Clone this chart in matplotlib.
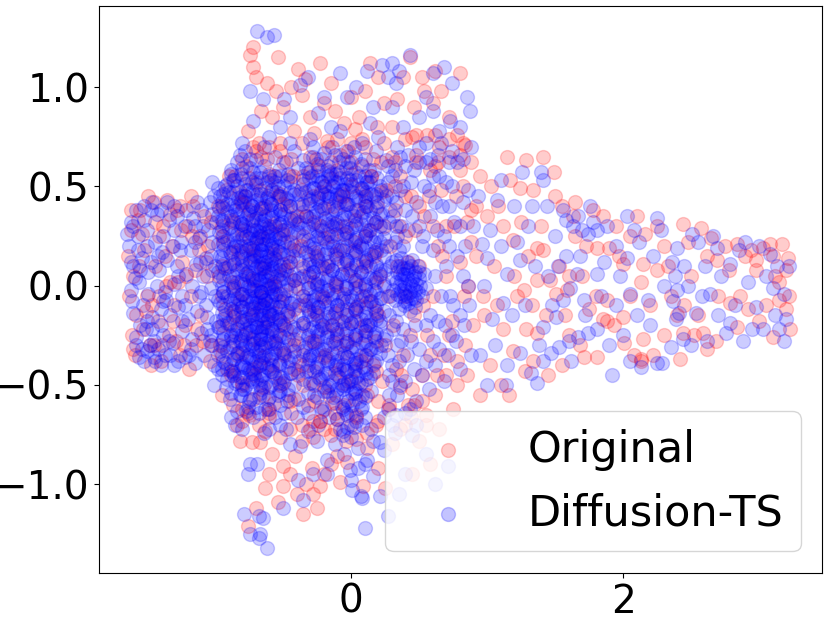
import numpy as np
import matplotlib
matplotlib.use("Agg")
import matplotlib.pyplot as plt

# ---------------- Original (red) points ----------------
orig_left = [(-1.62,.28),(-1.60,.05),(-1.58,-.15),(-1.61,-.25),(-1.55,.38),(-1.52,.18),(-1.50,-.05),(-1.48,-.30),
 (-1.45,.42),(-1.44,.10),(-1.42,-.18),(-1.40,-.38),(-1.38,.30),(-1.36,.00),(-1.34,-.25),(-1.32,.20),(-1.30,-.10),
 (-1.28,.38),(-1.26,-.35),(-1.24,.12),(-1.22,-.20),(-1.20,.30),(-1.18,-.05),(-1.16,.40),(-1.14,-.30),(-1.12,.18),
 (-1.10,-.15),(-1.08,.35),(-1.06,.05),(-1.04,-.38),(-1.57,.33),(-1.63,-.05),(-1.47,-.40),(-1.35,.43),(-1.27,.02),
 (-1.19,-.42),(-1.11,.25),(-1.53,-.22),(-1.41,.25),(-1.29,-.28),(-1.33,.36),(-1.21,.05),(-1.09,-.28),(-1.56,.10),
 (-1.46,-.10),(-1.39,-.30),(-1.25,.28),(-1.15,.08),(-1.05,.20),(-1.60,-.32),
 (-1.64,.15),(-1.59,-.35),(-1.54,.26),(-1.51,-.13),(-1.44,.32),(-1.41,-.05),(-1.37,.15),(-1.31,-.18),(-1.26,.40),
 (-1.23,-.30),(-1.17,.25),(-1.13,-.22),(-1.07,.12),(-1.02,-.30),(-1.49,.45),(-1.62,.38),(-1.18,.45),(-1.33,.02),
 (-1.03,.32),(-1.45,-.30)]
orig_core1 = [(-.98,.40),(-.97,.05),(-.96,-.30),(-.95,-.55),(-.94,.22),(-.93,-.12),(-.92,.48),(-.91,-.42),(-.90,.10),
 (-.89,-.20),(-.88,.33),(-.87,-.60),(-.86,.00),(-.85,.55),(-.84,-.35),(-.83,.18),(-.82,-.08),(-.81,.42),(-.80,-.50),
 (-.79,.28),(-.78,-.25),(-.77,.60),(-.76,.05),(-.75,-.65),(-.74,.38),(-.73,-.15),(-.72,.15),(-.71,-.45),(-.70,.52),
 (-.69,-.02),(-.68,.25),(-.67,-.30),(-.66,.65),(-.65,-.55),(-.64,.10),(-.63,.40),(-.62,-.18),(-.61,-.62),(-.60,.30),
 (-.59,.00),(-.58,-.40),(-.57,.55),(-.56,.18),(-.55,-.25),(-.54,.45),(-.53,-.08),(-.52,-.50),(-.51,.28),(-.50,.62),
 (-.49,-.35),(-.48,.08),(-.47,.40),(-.46,-.15),(-.45,-.58),(-.44,.22),(-.43,.55),(-.42,-.30),(-.41,.00),(-.40,.35),
 (-.39,-.45),(-.95,.30),(-.85,-.15),(-.75,.20),(-.65,-.10),(-.55,.05),(-.45,.12),(-.88,-.45),(-.78,.45),(-.68,-.40),
 (-.58,.48),(-.48,-.22),(-.70,.68),(-.60,-.66),(-.80,-.62),(-.52,.68)]
orig_core2 = [(-.37,.20),(-.36,-.40),(-.35,.55),(-.34,-.10),(-.33,.35),(-.32,-.60),(-.31,.05),(-.30,.65),(-.29,-.28),
 (-.28,.45),(-.27,-.50),(-.26,.15),(-.25,-.15),(-.24,.60),(-.23,-.68),(-.22,.30),(-.21,-.05),(-.20,.50),(-.19,-.35),
 (-.18,.10),(-.17,.70),(-.16,-.55),(-.15,.25),(-.14,-.20),(-.13,.40),(-.12,-.72),(-.11,.00),(-.10,.58),(-.09,-.42),
 (-.08,.18),(-.07,-.12),(-.06,.45),(-.05,-.60),(-.04,.30),(-.03,-.28),(-.02,.68),(-.01,.08),(.00,-.48),(.01,.50),
 (.02,-.18),(.03,.22),(.04,-.65),(.05,.38),(.06,.00),(.07,-.38),(.08,.60),(.09,.12),(.10,-.25),(.11,.45),(.12,-.55),
 (.13,.28),(.14,-.08),(.15,.55),(.16,-.40),(.17,.15),(.18,-.70),(.19,.40),(.20,-.15),(.21,.05),(.22,.62),(.23,-.48),
 (.24,.30),(.25,-.30),(.26,.48),(.27,-.05),(.28,-.60),(.29,.20),(.30,.65),(.31,-.20),(.32,.38),(.33,-.42),(.34,.10),
 (-.30,-.72),(.00,.72),(-.20,-.62),(.10,.70),(.20,-.58),(-.10,-.25),(.05,-.10),(-.15,.62)]
orig_core_fill = [(-.90,.55),(-.75,.54),(-.60,.56),(-.45,.55),(-.30,.57),(-.15,.54),(.00,.56),(.15,.55),
 (-.82,.47),(-.67,.48),(-.52,.46),(-.37,.48),(-.22,.47),(-.07,.46),(.08,.48),(.22,.47),
 (-.95,.40),(-.80,.41),(-.65,.39),(-.50,.41),(-.35,.40),(-.20,.39),(-.05,.41),(.10,.40),
 (-.87,.32),(-.72,.33),(-.57,.31),(-.42,.33),(-.27,.32),(-.12,.31),(.03,.33),(.18,.32),
 (-.95,.25),(-.80,.26),(-.65,.24),(-.50,.26),(-.35,.25),(-.20,.24),(-.05,.26),(.10,.25),
 (-.87,.17),(-.72,.18),(-.57,.16),(-.42,.18),(-.27,.17),(-.12,.16),(.03,.18),(.18,.17),
 (-.95,.10),(-.80,.11),(-.65,.09),(-.50,.11),(-.35,.10),(-.20,.09),(-.05,.11),(.10,.10),
 (-.87,.02),(-.72,.03),(-.57,.01),(-.42,.03),(-.27,.02),(-.12,.01),(.03,.03),(.18,.02),
 (-.95,-.05),(-.80,-.04),(-.65,-.06),(-.50,-.04),(-.35,-.05),(-.20,-.06),(-.05,-.04),(.10,-.05),
 (-.87,-.13),(-.72,-.12),(-.57,-.14),(-.42,-.12),(-.27,-.13),(-.12,-.14),(.03,-.12),(.18,-.13),
 (-.95,-.20),(-.80,-.19),(-.65,-.21),(-.50,-.19),(-.35,-.20),(-.20,-.21),(-.05,-.19),(.10,-.20),
 (-.87,-.28),(-.72,-.27),(-.57,-.29),(-.42,-.27),(-.27,-.28),(-.12,-.29),(.03,-.27),(.18,-.28),
 (-.95,-.35),(-.80,-.34),(-.65,-.36),(-.50,-.34),(-.35,-.35),(-.20,-.36),(-.05,-.34),(.10,-.35),
 (-.87,-.43),(-.72,-.42),(-.57,-.44),(-.42,-.42),(-.27,-.43),(-.12,-.44),(.03,-.42),(.18,-.43),
 (-.80,-.49),(-.65,-.51),(-.50,-.49),(-.35,-.50),(-.20,-.51),(-.05,-.49),(.10,-.50),
 (-.72,-.57),(-.57,-.59),(-.42,-.57),(-.27,-.58),(-.12,-.59),(.03,-.57)]
orig_mid = [(.36,.55),(.38,-.35),(.40,.25),(.42,-.60),(.44,.45),(.46,-.15),(.48,.62),(.50,.10),(.52,-.45),(.54,.35),
 (.56,-.25),(.58,.58),(.60,-.05),(.62,-.55),(.64,.20),(.66,.48),(.68,-.35),(.70,.05),(.72,.65),(.74,-.18),(.76,.30),
 (.78,-.50),(.80,.12),(.82,.50),(.84,-.30),(.86,.00),(.88,.38),(.90,-.20),(.45,.75),(.55,-.70),(.65,.70),(.75,-.62),
 (.40,-.05),(.50,.40),(.60,.30),(.70,-.45),(.80,.58),(.85,-.45),(.42,.12),(.58,-.35),
 (.32,.50),(.35,.30),(.37,-.45),(.43,-.25),(.47,.28),(.53,-.10),(.57,.45),(.63,-.45),(.67,.15),(.72,-.25),(.77,.45),
 (.83,-.05),(.88,.22),(.62,.60),(.52,-.58),(.40,.45),(.45,-.52),(.70,.30),(.78,-.38),(.85,.32)]
orig_top = [(-.72,1.20),(-.72,1.10),(-.74,1.16),(-.70,1.05),(-.54,1.15),(-.39,1.09),(-.23,1.12),(.14,1.12),(.43,1.15),
 (.03,.79),(.54,.98),(.84,.71),(.80,1.07),(-.62,1.02),(-.66,.88),(-.58,.85),(-.50,.90),(-.44,1.00),(-.36,.96),(-.42,.78),
 (-.30,.85),(-.20,.92),(-.12,.88),(-.05,.82),(.00,.95),(.06,.85),(.10,.98),(.19,.80),(.24,.92),(.30,.80),(.38,1.05),
 (.46,.90),(.52,1.05),(.60,.92),(.66,.98),(.72,.85),(.78,.76),(.62,.76),(-.76,.78),(-.68,.72),(-.34,1.04),(-.27,.77),
 (.34,.94),(.48,.76),(-.60,.70),(-.10,.74),
 (-.80,.64),(-.72,.70),(-.62,.64),(-.52,.72),(-.44,.64),(-.36,.72),(-.26,.64),(-.18,.73),(-.08,.66),(.00,.62),(.08,.74),
 (.16,.64),(.24,.72),(.32,.62),(.40,.74),(.48,.66),(.56,.76),(.64,.62),(.72,.74),(.80,.66),(.88,.62),(-.55,.98),
 (.20,1.05),(.62,1.08),(-.15,1.02)]
orig_bottom = [(-.82,-.78),(-.73,-.79),(-.67,-.79),(-.80,-.68),(-.63,-.73),(-.76,-1.21),(-.63,-1.02),(-.54,-1.09),
 (-.50,-1.01),(-.35,-1.15),(-.28,-1.05),(-.29,-.92),(-.23,-1.01),(-.40,-1.05),(-.50,-.91),(-.41,-.86),(-.10,-.86),
 (-.08,-.99),(.09,-1.01),(-.03,-.89),(-.28,-.68),(-.23,-.68),(-.10,-.67),(.04,-.77),(.12,-.82),(.46,-.60),(.36,-.51),
 (-.70,-1.12),(-.33,-1.00),(-.25,-1.12),(-.45,-.72),(-.15,-.75),(.20,-.92),(.30,-.80),(.40,-.70),(.50,-.78),(.58,-.90),
 (.65,-.72),(.45,-.95),(.55,-.65),(.25,-1.02),(-.58,-.85),(-.20,-.95),(.00,-.70),(-.36,-.78),
 (-.84,-.70),(-.76,-.64),(-.68,-.70),(-.60,-.64),(-.52,-.76),(-.44,-.64),(-.36,-.70),(-.28,-.76),(-.20,-.72),
 (-.12,-.64),(-.04,-.78),(.04,-.66),(.12,-.74),(.20,-.68),(.28,-.62),(.36,-.72),(.44,-.66),(-.45,-.95),(-.60,-.95),
 (-.15,-.90)]
orig_tail = [(1.15,.65),(1.29,.63),(1.41,.65),(1.49,.57),(2.44,.31),(2.57,.29),(2.65,.24),(2.84,.21),(3.17,.21),
 (3.03,.19),(3.21,.14),(3.20,.08),(3.20,-.12),(3.23,-.22),(3.10,-.26),(2.98,.08),(2.92,-.12),(2.84,-.21),(2.62,-.32),
 (2.59,-.24),(2.42,-.37),(2.22,-.35),(2.13,-.37),(2.01,-.29),(2.15,-.27),(1.88,-.07),(2.13,.02),(2.15,.11),(2.00,.11),
 (1.81,.19),(1.90,.19),(2.10,.35),(2.16,.26),(2.00,-.16),(1.85,-.17),(1.59,-.02),(1.46,.03),(1.37,.03),(1.27,-.02),
 (1.51,-.04),(1.41,.18),(1.37,.19),(1.19,.23),(.95,.55),(1.17,.53),(1.24,.49),(1.34,.48),(.82,.72),(1.12,-.22),
 (1.29,-.22),(1.37,-.24),(1.88,-.18),(1.81,-.36),(1.71,-.36),(1.34,-.38),(1.19,-.33),(1.28,-.43),(2.13,-.38),
 (2.44,-.24),(2.79,-.09),(2.98,.13),(3.08,.21),(3.15,-.07),(2.69,.13),(1.00,.35),(1.05,.10),(.98,-.15),(1.02,-.40),
 (.95,-.55),(1.10,-.50),(1.20,.05),(1.25,.32),(1.55,.40),(1.65,.25),(1.70,.05),(1.60,-.25),(1.75,-.12),(1.95,.30),
 (2.05,-.05),(2.30,.20),(2.35,-.05),(2.50,.05),(2.55,-.15),(2.70,-.05),(2.75,.20),(2.90,.15),(3.00,-.18),(3.12,.05),
 (2.25,.08),(1.45,-.45),(1.55,-.40),(1.08,.40),(.92,.15),(2.30,-.25),(1.65,.42),(1.78,.38),
 (.92,.40),(.97,-.05),(1.03,.50),(1.07,-.10),(1.12,.30),(1.16,-.55),(1.22,-.05),(1.30,.15),(1.33,-.10),(1.40,.30),
 (1.43,-.15),(1.50,.45),(1.53,.10),(1.57,-.15),(1.63,.35),(1.68,-.30),(1.73,.20),(1.80,-.05),(1.85,.35),(1.93,-.20),
 (1.97,.15),(2.05,.25),(2.08,-.35),(2.20,-.10),(2.25,.30),(2.33,.10),(2.40,-.15),(2.48,.22),(2.52,-.25),(2.62,.15),
 (2.68,-.28),(2.78,.08),(2.86,-.05),(2.94,.18),(3.05,-.10),(3.10,.15),(3.15,.02),(3.22,-.05),(2.45,-.10),(1.60,.05)]

# ---------------- Diffusion-TS (blue) points ----------------
synth_left = [(-1.62,.32),(-1.58,.38),(-1.52,.40),(-1.46,.42),(-1.40,.38),(-1.34,.33),(-1.28,.35),(-1.22,.30),
 (-1.16,.34),(-1.10,.38),(-1.04,.42),(-1.63,.20),(-1.57,.25),(-1.50,.28),(-1.44,.22),(-1.38,.25),(-1.31,.20),
 (-1.25,.22),(-1.18,.18),(-1.12,.24),(-1.05,.28),(-1.60,.10),(-1.54,.14),(-1.47,.12),(-1.41,.08),(-1.35,.13),
 (-1.28,.10),(-1.21,.06),(-1.14,.11),(-1.07,.14),(-1.02,.08),(-1.62,-.02),(-1.56,.02),(-1.49,-.04),(-1.43,.00),
 (-1.37,-.03),(-1.30,.01),(-1.24,-.05),(-1.17,.00),(-1.10,-.03),(-1.03,-.01),(-1.60,-.14),(-1.53,-.10),(-1.46,-.16),
 (-1.40,-.12),(-1.33,-.15),(-1.27,-.11),(-1.20,-.17),(-1.13,-.13),(-1.06,-.16),(-1.58,-.26),(-1.51,-.22),(-1.45,-.28),
 (-1.38,-.25),(-1.31,-.29),(-1.24,-.23),(-1.17,-.27),(-1.10,-.24),(-1.04,-.28),(-1.56,-.36),(-1.50,-.33),(-1.44,-.38),
 (-1.37,-.35),(-1.30,-.40),(-1.22,-.36),(-1.15,-.39),(-1.08,-.35),(-1.48,-.30),(-1.42,-.32),(-1.45,-.36),
 (-1.65,.26),(-1.59,.04),(-1.55,-.20),(-1.52,.33),(-1.49,.07),(-1.46,-.22),(-1.43,.36),(-1.39,.17),(-1.36,-.07),
 (-1.33,-.35),(-1.30,.28),(-1.27,.05),(-1.24,-.18),(-1.21,.38),(-1.18,-.32),(-1.15,.22),(-1.12,-.05),(-1.09,.30),
 (-1.06,-.22),(-1.03,.15),(-1.01,-.40),(-1.54,-.32),(-1.57,.18),(-1.61,-.08),(-1.35,.42),(-1.27,-.38),(-1.13,.42),
 (-1.09,.05),(-1.40,-.20),(-1.50,.20),
 (-1.60,.30),(-1.55,.08),(-1.50,-.18),(-1.47,.38),(-1.42,.15),(-1.38,-.08),(-1.34,-.28),(-1.30,.40),(-1.26,.18),
 (-1.22,-.10),(-1.19,-.35),(-1.15,.30),(-1.11,.12),(-1.07,-.10),(-1.03,-.25),(-1.02,.36),(-1.58,-.30),(-1.52,-.38),
 (-1.40,-.40),(-1.62,.12)]
synth_core1 = [(-.88,.56),(-.80,.59),(-.72,.57),(-.64,.60),(-.56,.55),
 (-.93,.50),(-.86,.53),(-.78,.51),(-.70,.54),(-.62,.52),(-.54,.50),(-.47,.53),
 (-.96,.45),(-.90,.47),(-.83,.44),(-.76,.48),(-.69,.46),(-.61,.45),(-.55,.47),(-.48,.44),(-.42,.46),
 (-.97,.39),(-.91,.41),(-.85,.38),(-.79,.42),(-.73,.40),(-.66,.39),(-.59,.41),(-.52,.38),(-.45,.40),
 (-.95,.33),(-.88,.35),(-.82,.32),(-.76,.36),(-.70,.34),(-.64,.33),(-.58,.35),(-.51,.32),(-.44,.34),(-.40,.31),
 (-.97,.27),(-.90,.29),(-.84,.26),(-.78,.30),(-.72,.28),(-.67,.27),(-.62,.29),(-.56,.26),(-.49,.28),(-.42,.27),
 (-.94,.21),(-.87,.23),(-.81,.20),(-.75,.24),(-.70,.22),(-.65,.21),(-.60,.23),(-.54,.20),(-.47,.22),
 (-.96,.15),(-.89,.17),(-.83,.14),(-.77,.18),(-.72,.16),(-.67,.15),(-.62,.17),(-.57,.14),(-.50,.16),(-.43,.15),
 (-.93,.09),(-.86,.11),(-.80,.08),(-.74,.12),(-.69,.10),(-.64,.09),(-.59,.11),(-.53,.08),(-.46,.10),
 (-.97,.03),(-.90,.05),(-.84,.02),(-.78,.06),(-.73,.04),(-.68,.03),(-.63,.05),(-.57,.02),(-.50,.04),(-.42,.03),
 (-.94,-.03),(-.87,-.01),(-.81,-.04),(-.76,.00),(-.71,-.02),(-.66,-.03),(-.61,-.01),(-.55,-.04),(-.48,-.02),
 (-.96,-.09),(-.89,-.07),(-.83,-.10),(-.78,-.06),(-.73,-.08),(-.68,-.09),(-.63,-.07),(-.58,-.10),(-.51,-.08),(-.44,-.09),
 (-.93,-.15),(-.86,-.13),(-.80,-.16),(-.75,-.12),(-.70,-.14),(-.65,-.15),(-.60,-.13),(-.54,-.16),(-.47,-.14),
 (-.97,-.21),(-.90,-.19),(-.84,-.22),(-.79,-.18),(-.74,-.20),(-.69,-.21),(-.64,-.19),(-.58,-.22),(-.52,-.20),(-.43,-.21),
 (-.94,-.27),(-.88,-.25),(-.82,-.28),(-.77,-.24),(-.72,-.26),(-.67,-.27),(-.62,-.25),(-.56,-.28),(-.49,-.26),
 (-.96,-.33),(-.89,-.31),(-.83,-.34),(-.78,-.30),(-.73,-.32),(-.68,-.33),(-.63,-.31),(-.57,-.34),(-.50,-.32),(-.42,-.33),
 (-.93,-.39),(-.86,-.37),(-.80,-.40),(-.75,-.36),(-.70,-.38),(-.65,-.39),(-.59,-.37),(-.53,-.40),(-.46,-.38),
 (-.95,-.45),(-.88,-.43),(-.82,-.46),(-.76,-.42),(-.71,-.44),(-.65,-.45),(-.58,-.43),(-.51,-.46),(-.44,-.44),
 (-.92,-.51),(-.85,-.49),(-.79,-.52),(-.73,-.48),(-.67,-.50),(-.60,-.51),(-.53,-.49),(-.46,-.52),
 (-.89,-.57),(-.82,-.55),(-.75,-.58),(-.68,-.56),(-.61,-.57),(-.54,-.55),(-.47,-.58),
 (-.84,-.63),(-.76,-.61),(-.68,-.64),(-.60,-.62),(-.52,-.60)]
synth_core1_dense = [(-.78,.45),(-.70,.43),(-.62,.44),(-.75,.37),(-.67,.36),(-.59,.38),(-.52,.36),(-.80,.31),(-.72,.30),
 (-.64,.31),(-.56,.30),(-.77,.25),(-.69,.24),(-.61,.25),(-.53,.24),(-.74,.19),(-.66,.18),(-.58,.19),(-.80,.13),(-.71,.13),
 (-.63,.12),(-.55,.13),(-.76,.07),(-.68,.06),(-.60,.07),(-.52,.06),(-.79,.01),(-.71,.00),(-.63,.01),(-.56,.00),(-.75,-.05),
 (-.67,-.05),(-.59,-.05),(-.80,-.11),(-.72,-.11),(-.64,-.11),(-.56,-.11),(-.77,-.17),(-.69,-.17),(-.61,-.17),(-.53,-.17),
 (-.74,-.23),(-.66,-.23),(-.58,-.23),(-.80,-.29),(-.71,-.29),(-.63,-.29),(-.55,-.29),(-.76,-.35),(-.68,-.35),(-.60,-.35),
 (-.79,-.41),(-.70,-.41),(-.62,-.41),(-.74,-.47),(-.66,-.47),(-.85,-.25),(-.85,.20),(-.86,-.05),(-.84,.40),(-.86,-.45),
 (-.70,.28),(-.62,.27),(-.66,.21),(-.58,.21),(-.70,.15),(-.62,.15),(-.66,.09),(-.58,.09),(-.70,.03),(-.62,.03),(-.66,-.03),
 (-.58,-.03),(-.70,-.09),(-.62,-.09),(-.66,-.15),(-.58,-.15),(-.70,-.21),(-.62,-.21),(-.66,-.27)]
synth_core2 = [(-.28,.65),(-.20,.67),(-.12,.66),(-.04,.68),(.03,.65),
 (-.33,.59),(-.25,.61),(-.17,.60),(-.09,.62),(-.01,.59),(.07,.61),(.13,.58),
 (-.35,.53),(-.29,.55),(-.22,.52),(-.15,.56),(-.08,.54),(-.01,.53),(.06,.55),(.12,.52),(.19,.54),
 (-.34,.47),(-.27,.49),(-.20,.46),(-.13,.50),(-.06,.48),(.01,.47),(.08,.49),(.15,.46),(.22,.48),
 (-.36,.41),(-.30,.43),(-.23,.40),(-.16,.44),(-.09,.42),(-.02,.41),(.05,.43),(.12,.40),(.19,.42),
 (-.33,.35),(-.26,.37),(-.19,.34),(-.12,.38),(-.05,.36),(.02,.35),(.09,.37),(.16,.34),(.23,.36),
 (-.35,.29),(-.28,.31),(-.21,.28),(-.14,.32),(-.07,.30),(.00,.29),(.07,.31),(.14,.28),(.21,.30),
 (-.32,.23),(-.25,.25),(-.18,.22),(-.11,.26),(-.04,.24),(.03,.23),(.10,.25),(.17,.22),(.24,.24),
 (-.34,.17),(-.27,.19),(-.20,.16),(-.13,.20),(-.06,.18),(.01,.17),(.08,.19),(.15,.16),(.22,.18),
 (-.31,.11),(-.24,.13),(-.17,.10),(-.10,.14),(-.03,.12),(.04,.11),(.11,.13),(.18,.10),
 (-.35,.05),(-.28,.07),(-.21,.04),(-.14,.08),(-.07,.06),(.00,.05),(.07,.07),(.14,.04),(.21,.06),
 (-.32,-.01),(-.25,.01),(-.18,-.02),(-.11,.02),(-.04,.00),(.03,-.01),(.10,.01),(.17,-.02),(.24,.00),
 (-.34,-.07),(-.27,-.05),(-.20,-.08),(-.13,-.04),(-.06,-.06),(.01,-.07),(.08,-.05),(.15,-.08),(.22,-.06),
 (-.31,-.13),(-.24,-.11),(-.17,-.14),(-.10,-.10),(-.03,-.12),(.04,-.13),(.11,-.11),(.18,-.14),
 (-.35,-.19),(-.28,-.17),(-.21,-.20),(-.14,-.16),(-.07,-.18),(.00,-.19),(.07,-.17),(.14,-.20),(.21,-.18),
 (-.32,-.25),(-.25,-.23),(-.18,-.26),(-.11,-.22),(-.04,-.24),(.03,-.25),(.10,-.23),(.17,-.26),
 (-.34,-.31),(-.27,-.29),(-.20,-.32),(-.13,-.28),(-.06,-.30),(.01,-.31),(.08,-.29),(.15,-.32),(.22,-.30),
 (-.31,-.37),(-.24,-.35),(-.17,-.38),(-.10,-.34),(-.03,-.36),(.04,-.37),(.11,-.35),(.18,-.38),
 (-.33,-.43),(-.26,-.41),(-.19,-.44),(-.12,-.40),(-.05,-.42),(.02,-.43),(.09,-.41),(.16,-.44),
 (-.30,-.49),(-.23,-.47),(-.16,-.50),(-.09,-.46),(-.02,-.48),(.05,-.49),(.12,-.47),
 (-.27,-.55),(-.20,-.53),(-.13,-.56),(-.06,-.52),(.01,-.54),(.08,-.55),(.15,-.53),
 (-.22,-.61),(-.14,-.59),(-.06,-.62),(.01,-.60),(.08,-.61),
 (-.10,-.67),(-.03,-.65),(.04,-.68),(.10,-.66),(-.06,-.73),(.02,-.71),
 (-.24,.58),(-.16,.57),(-.08,.57),(-.20,.50),(-.12,.52),(-.04,.51),(-.24,.44),(-.16,.45),(-.08,.45),(-.02,.62),
 (-.06,-.40),(.02,-.39),(-.06,-.50),(.02,-.52),(-.02,-.58),(.06,-.58),(-.04,-.64),(.05,-.45),(-.28,.10),(-.22,.00),
 (-.28,-.10),(-.22,-.22),(-.30,-.35),(.12,-.20),(.06,.20),(-.14,.30),(.10,.45)]
synth_core_fill = [(-.88,.58),(-.81,.56),(-.74,.59),(-.67,.57),(-.60,.55),(-.53,.58),(-.46,.56),(-.39,.59),(-.32,.57),
 (-.25,.55),(-.18,.58),(-.11,.56),(-.04,.59),(.03,.57),(.10,.55),(.17,.58),
 (-.98,.49),(-.91,.51),(-.84,.50),(-.77,.48),(-.70,.51),(-.63,.49),(-.56,.52),(-.49,.50),(-.42,.48),(-.35,.51),
 (-.28,.49),(-.21,.52),(-.14,.50),(-.07,.48),(.00,.51),(.07,.49),(.14,.52),(.21,.50),
 (-.95,.42),(-.88,.44),(-.81,.43),(-.74,.41),(-.67,.44),(-.60,.42),(-.53,.45),(-.46,.43),(-.39,.41),(-.32,.44),
 (-.25,.42),(-.18,.45),(-.11,.43),(-.04,.41),(.03,.44),(.10,.42),(.17,.45),(.24,.43),
 (-.98,.35),(-.91,.37),(-.84,.36),(-.77,.34),(-.70,.37),(-.63,.35),(-.56,.38),(-.49,.36),(-.42,.34),(-.35,.37),
 (-.28,.35),(-.21,.38),(-.14,.36),(-.07,.34),(.00,.37),(.07,.35),(.14,.38),(.21,.36),
 (-.95,.28),(-.88,.30),(-.81,.29),(-.74,.27),(-.67,.30),(-.60,.28),(-.53,.31),(-.46,.29),(-.39,.27),(-.32,.30),
 (-.25,.28),(-.18,.31),(-.11,.29),(-.04,.27),(.03,.30),(.10,.28),(.17,.31),(.24,.29),
 (-.98,.21),(-.91,.23),(-.84,.22),(-.77,.20),(-.70,.23),(-.63,.21),(-.56,.24),(-.49,.22),(-.42,.20),(-.35,.23),
 (-.28,.21),(-.21,.24),(-.14,.22),(-.07,.20),(.00,.23),(.07,.21),(.14,.24),(.21,.22),
 (-.95,.14),(-.88,.16),(-.81,.15),(-.74,.13),(-.67,.16),(-.60,.14),(-.53,.17),(-.46,.15),(-.39,.13),(-.32,.16),
 (-.25,.14),(-.18,.17),(-.11,.15),(-.04,.13),(.03,.16),(.10,.14),(.17,.17),(.24,.15),
 (-.98,.07),(-.91,.09),(-.84,.08),(-.77,.06),(-.70,.09),(-.63,.07),(-.56,.10),(-.49,.08),(-.42,.06),(-.35,.09),
 (-.28,.07),(-.21,.10),(-.14,.08),(-.07,.06),(.00,.09),(.07,.07),(.14,.10),(.21,.08),
 (-.95,.00),(-.88,.02),(-.81,.01),(-.74,-.01),(-.67,.02),(-.60,.00),(-.53,.03),(-.46,.01),(-.39,-.01),(-.32,.02),
 (-.25,.00),(-.18,.03),(-.11,.01),(-.04,-.01),(.03,.02),(.10,.00),(.17,.03),(.24,.01),
 (-.98,-.07),(-.91,-.05),(-.84,-.06),(-.77,-.08),(-.70,-.05),(-.63,-.07),(-.56,-.04),(-.49,-.06),(-.42,-.08),
 (-.35,-.05),(-.28,-.07),(-.21,-.04),(-.14,-.06),(-.07,-.08),(.00,-.05),(.07,-.07),(.14,-.04),(.21,-.06),
 (-.95,-.14),(-.88,-.12),(-.81,-.13),(-.74,-.15),(-.67,-.12),(-.60,-.14),(-.53,-.11),(-.46,-.13),(-.39,-.15),
 (-.32,-.12),(-.25,-.14),(-.18,-.11),(-.11,-.13),(-.04,-.15),(.03,-.12),(.10,-.14),(.17,-.11),(.24,-.13),
 (-.98,-.21),(-.91,-.19),(-.84,-.20),(-.77,-.22),(-.70,-.19),(-.63,-.21),(-.56,-.18),(-.49,-.20),(-.42,-.22),
 (-.35,-.19),(-.28,-.21),(-.21,-.18),(-.14,-.20),(-.07,-.22),(.00,-.19),(.07,-.21),(.14,-.18),(.21,-.20),
 (-.95,-.28),(-.88,-.26),(-.81,-.27),(-.74,-.29),(-.67,-.26),(-.60,-.28),(-.53,-.25),(-.46,-.27),(-.39,-.29),
 (-.32,-.26),(-.25,-.28),(-.18,-.25),(-.11,-.27),(-.04,-.29),(.03,-.26),(.10,-.28),(.17,-.25),(.24,-.27),
 (-.98,-.35),(-.91,-.33),(-.84,-.34),(-.77,-.36),(-.70,-.33),(-.63,-.35),(-.56,-.32),(-.49,-.34),(-.42,-.36),
 (-.35,-.33),(-.28,-.35),(-.21,-.32),(-.14,-.34),(-.07,-.36),(.00,-.33),(.07,-.35),(.14,-.32),(.21,-.34),
 (-.95,-.42),(-.88,-.40),(-.81,-.41),(-.74,-.43),(-.67,-.40),(-.60,-.42),(-.53,-.39),(-.46,-.41),(-.39,-.43),
 (-.32,-.40),(-.25,-.42),(-.18,-.39),(-.11,-.41),(-.04,-.43),(.03,-.40),(.10,-.42),(.17,-.39),
 (-.91,-.47),(-.84,-.48),(-.77,-.50),(-.70,-.47),(-.63,-.49),(-.56,-.46),(-.49,-.48),(-.42,-.50),(-.35,-.47),
 (-.28,-.49),(-.21,-.46),(-.14,-.48),(-.07,-.50),(.00,-.47),(.07,-.49),(.14,-.46),
 (-.88,-.54),(-.81,-.55),(-.74,-.57),(-.67,-.54),(-.60,-.56),(-.53,-.53),(-.46,-.55),(-.39,-.57),(-.32,-.54),
 (-.25,-.56),(-.18,-.53),(-.11,-.55),(-.04,-.57),(.03,-.54),(.10,-.56),
 (-.77,-.63),(-.70,-.61),(-.63,-.62),(-.49,-.64),(-.35,-.61),(-.21,-.63),(-.07,-.61),(.00,-.64),(.07,-.62)]
synth_core_fill2 = [(-.87,.53),(-.80,.54),(-.73,.52),(-.66,.54),(-.59,.53),(-.52,.55),(-.45,.52),(-.31,.54),(-.24,.53),
 (-.17,.55),(-.10,.52),(-.03,.54),(.04,.53),(.11,.52),
 (-.94,.46),(-.87,.47),(-.80,.45),(-.73,.47),(-.66,.46),(-.59,.48),(-.52,.45),(-.45,.47),(-.38,.46),(-.31,.48),
 (-.24,.45),(-.17,.47),(-.10,.46),(-.03,.48),(.04,.45),(.11,.47),(.18,.46),
 (-.94,.39),(-.87,.40),(-.80,.38),(-.73,.40),(-.66,.39),(-.59,.41),(-.52,.38),(-.45,.40),(-.31,.41),(-.24,.38),
 (-.17,.40),(-.10,.39),(-.03,.41),(.04,.38),(.11,.40),(.18,.39),
 (-.94,.32),(-.87,.33),(-.80,.31),(-.73,.33),(-.66,.32),(-.59,.34),(-.52,.31),(-.45,.33),(-.38,.32),(-.31,.34),
 (-.24,.31),(-.17,.33),(-.10,.32),(-.03,.34),(.04,.31),(.11,.33),(.18,.32),
 (-.94,.25),(-.87,.26),(-.80,.24),(-.73,.26),(-.66,.25),(-.59,.27),(-.52,.24),(-.45,.26),(-.31,.27),(-.24,.24),
 (-.17,.26),(-.10,.25),(-.03,.27),(.04,.24),(.11,.26),(.18,.25),
 (-.94,.18),(-.87,.19),(-.80,.17),(-.73,.19),(-.66,.18),(-.59,.20),(-.52,.17),(-.45,.19),(-.38,.18),(-.31,.20),
 (-.24,.17),(-.17,.19),(-.10,.18),(-.03,.20),(.04,.17),(.11,.19),(.18,.18),
 (-.94,.11),(-.87,.12),(-.80,.10),(-.73,.12),(-.66,.11),(-.59,.13),(-.52,.10),(-.45,.12),(-.31,.13),(-.24,.10),
 (-.17,.12),(-.10,.11),(-.03,.13),(.04,.10),(.11,.12),(.18,.11),
 (-.94,.04),(-.87,.05),(-.80,.03),(-.73,.05),(-.66,.04),(-.59,.06),(-.52,.03),(-.45,.05),(-.38,.04),(-.31,.06),
 (-.24,.03),(-.17,.05),(-.10,.04),(-.03,.06),(.04,.03),(.11,.05),(.18,.04),
 (-.94,-.03),(-.87,-.02),(-.80,-.04),(-.73,-.02),(-.66,-.03),(-.59,-.01),(-.52,-.04),(-.45,-.02),(-.31,-.01),
 (-.24,-.04),(-.17,-.02),(-.10,-.03),(-.03,-.01),(.04,-.04),(.11,-.02),(.18,-.03),
 (-.94,-.10),(-.87,-.09),(-.80,-.11),(-.73,-.09),(-.66,-.10),(-.59,-.08),(-.52,-.11),(-.45,-.09),(-.38,-.10),
 (-.31,-.08),(-.24,-.11),(-.17,-.09),(-.10,-.10),(-.03,-.08),(.04,-.11),(.11,-.09),(.18,-.10),
 (-.94,-.17),(-.87,-.16),(-.80,-.18),(-.73,-.16),(-.66,-.17),(-.59,-.15),(-.52,-.18),(-.45,-.16),(-.31,-.15),
 (-.24,-.18),(-.17,-.16),(-.10,-.17),(-.03,-.15),(.04,-.18),(.11,-.16),(.18,-.17),
 (-.94,-.24),(-.87,-.23),(-.80,-.25),(-.73,-.23),(-.66,-.24),(-.59,-.22),(-.52,-.25),(-.45,-.23),(-.38,-.24),
 (-.31,-.22),(-.24,-.25),(-.17,-.23),(-.10,-.24),(-.03,-.22),(.04,-.25),(.11,-.23),(.18,-.24),
 (-.94,-.31),(-.87,-.30),(-.80,-.32),(-.73,-.30),(-.66,-.31),(-.59,-.29),(-.52,-.32),(-.45,-.30),(-.31,-.29),
 (-.24,-.32),(-.17,-.30),(-.10,-.31),(-.03,-.29),(.04,-.32),(.11,-.30),(.18,-.31),
 (-.94,-.38),(-.87,-.37),(-.80,-.39),(-.73,-.37),(-.66,-.38),(-.59,-.36),(-.52,-.39),(-.45,-.37),(-.38,-.38),
 (-.31,-.36),(-.24,-.39),(-.17,-.37),(-.10,-.38),(-.03,-.36),(.04,-.39),(.11,-.37),
 (-.87,-.44),(-.80,-.46),(-.73,-.44),(-.66,-.45),(-.59,-.43),(-.52,-.46),(-.45,-.44),(-.31,-.43),(-.24,-.46),
 (-.17,-.44),(-.10,-.45),(-.03,-.43),(.04,-.46),(.11,-.44),
 (-.80,-.52),(-.73,-.51),(-.66,-.52),(-.59,-.50),(-.52,-.53),(-.17,-.51),(-.10,-.52),(-.03,-.50),(.04,-.53)]
synth_edges = [(.27,.52),(.29,.38),(.26,.20),(.30,.12),(.28,-.15),(.31,-.22),(.27,-.35),(.30,-.48),(.33,.42),
 (.34,.25),(.35,.18),(.33,-.18),(.35,-.38),(.32,.58),(.26,.45),(.28,-.45),(.31,.35),(.29,-.05),(.25,.08),(.27,-.62),
 (.34,-.55),(.36,.48),(.37,.30),(.37,-.28),
 (-1.01,.45),(-1.02,.22),(-1.00,-.05),(-1.03,-.30),(-1.01,-.50),(-.99,.32),(-1.00,.10),(-.99,-.18),(-.98,-.42),
 (-1.02,.52)]
synth_blob = [(.29,.10),(.33,.13),(.37,.14),(.41,.12),(.45,.13),(.49,.10),(.30,.04),(.34,.07),(.38,.06),(.42,.08),
 (.46,.05),(.50,.04),(.54,.06),(.31,-.02),(.35,.00),(.39,-.01),(.43,.01),(.47,-.02),(.51,.00),(.55,-.01),(.32,-.07),
 (.36,-.05),(.40,-.08),(.44,-.06),(.48,-.07),(.52,-.05),(.35,-.12),(.39,-.10),(.43,-.13),(.47,-.11),(.37,.03),(.41,.04),
 (.45,.00),(.39,-.04),(.43,-.03),(.41,.09),(.36,.10),(.47,.07),
 (.33,.02),(.37,-.02),(.41,-.05),(.45,.03),(.49,-.03),(.40,.01),(.38,.09),(.44,.10),(.42,-.09),(.46,-.06),(.34,-.04),
 (.50,.07),(.36,.06),(.48,.01),(.40,.06)]
synth_mid = [(.27,.60),(.30,.45),(.28,.32),(.32,.22),(.26,-.25),(.30,-.40),(.28,-.55),(.33,-.65),(.36,.65),(.38,.50),
 (.40,.38),(.42,.28),(.38,-.22),(.41,-.35),(.40,-.48),(.43,-.62),(.46,.58),(.48,.42),(.50,.30),(.52,.20),(.47,-.20),
 (.50,-.32),(.52,-.45),(.48,-.58),(.55,.62),(.57,.48),(.58,.35),(.60,.18),(.62,.05),(.58,-.15),(.60,-.28),(.62,-.40),
 (.57,-.52),(.65,.55),(.67,.40),(.68,.25),(.70,.10),(.66,-.05),(.69,-.20),(.71,-.35),(.68,-.48),(.74,.50),(.76,.32),
 (.78,.15),(.75,-.10),(.77,-.28),(.80,-.42),(.82,.42),(.84,.20),(.86,.00),(.83,-.20),(.88,-.35),(.90,.30),(.78,.62),
 (.72,.62),(.64,.66),
 (.30,.55),(.33,.30),(.34,-.30),(.36,-.50),(.38,.20),(.44,.52),(.45,.35),(.44,-.28),(.46,-.42),(.54,.50),(.53,.25),
 (.55,-.20),(.55,-.38),(.62,.42),(.63,.28),(.64,-.18),(.65,-.32),(.72,.40),(.72,.20),(.73,-.05),(.74,-.25),(.80,.30),
 (.82,.05),(.80,-.15),(.86,.48),(.87,-.10),(.60,.55),(.50,.62),(.40,.60),(.70,.52)]
synth_top = [(-.69,1.28),(-.62,1.25),(-.57,1.26),(-.74,.98),(-.65,.94),(-.49,.94),(-.375,1.01),(-.32,1.05),(-.24,.87),
 (-.08,1.07),(.12,1.08),(.23,1.11),(.30,1.12),(.35,1.08),(.43,1.16),(.60,1.07),(.68,1.10),(.74,1.02),(.85,.95),
 (.875,.88),(-.72,.83),(.16,.90),(.14,.82),(.38,.80),(-.08,.78),(-.15,.80),(-.03,.95),(.04,1.00),(.65,.78),(.73,.83),
 (.60,.88),(-.80,.72),(-.60,.75),(-.45,.72),(-.30,.74),(.20,.75),(.50,.85),(.55,.72),(-.52,.80),(.08,.72),(.27,1.05),
 (.33,1.02),(-.82,.66),(-.74,.64),
 (-.84,.62),(-.78,.68),(-.70,.63),(-.64,.70),(-.56,.65),(-.48,.62),(-.42,.68),(-.35,.63),(-.28,.70),(-.22,.64),
 (-.14,.70),(-.06,.64),(.02,.70),(.10,.64),(.18,.68),(.26,.63),(.34,.70),(.42,.66),(.50,.70),(.58,.64),(.66,.72),
 (.74,.68),(.82,.64),(.88,.70),(-.45,.85),(-.20,.95),(.30,.90),(.55,.95),(.80,.80)]
synth_bottom = [(-.74,-.90),(-.69,-.90),(-.76,-.95),(-.79,-1.15),(-.68,-1.16),(-.65,-1.17),(-.74,-1.25),(-.67,-1.25),
 (-.62,-1.32),(-.68,-1.27),(-.52,-.70),(-.45,-.80),(-.375,-.81),(-.50,-1.12),(-.35,-1.08),(-.39,-.98),(-.32,-.73),
 (-.18,-.88),(-.18,-.95),(-.01,-.93),(.01,-1.03),(.07,-1.06),(.08,-1.07),(.16,-.96),(.10,-1.22),(.21,-1.06),(.21,-.79),
 (.24,-.83),(.12,-.88),(-.03,-.71),(-.06,-.75),(.27,-1.16),(.71,-1.15),(.71,-.91),(-.85,-.70),(-.60,-.72),(-.25,-.78),
 (.30,-.70),(.45,-.75),(.55,-.85),(.62,-1.00),(.40,-.95),(.35,-1.05),(-.12,-.80),(.05,-.82),(-.28,-.95),(.15,-.72),
 (-.88,-.66),(-.80,-.72),(-.72,-.66),(-.64,-.74),(-.56,-.66),(-.48,-.72),(-.40,-.66),(-.32,-.64),(-.24,-.70),
 (-.16,-.66),(-.08,-.72),(.00,-.76),(.08,-.70),(.16,-.78),(.24,-.66),(.32,-.74),(.40,-.64),(.48,-.70),(.10,-.90),
 (-.05,-.85),(.00,-.98),(.05,-.92)]
synth_tail = [(1.26,.57),(1.40,.57),(1.41,.53),(1.10,.53),(1.56,.38),(1.58,.33),(1.63,.30),(1.67,.35),(1.70,.28),
 (1.74,.26),(1.78,.32),(1.81,.28),(2.03,.35),(2.25,.34),(2.40,.19),(2.36,.12),(2.38,.05),(2.40,-.02),(2.37,-.08),
 (2.41,-.14),(2.39,-.17),(2.51,.26),(2.69,.19),(2.79,.11),(3.08,.16),(3.10,-.01),(3.18,-.04),(3.20,-.17),(3.15,-.22),
 (3.03,-.22),(2.98,-.11),(2.79,-.19),(2.76,-.24),(2.64,-.04),(2.54,-.14),(2.44,-.27),(2.35,-.31),(2.25,-.39),
 (2.13,-.41),(2.05,-.38),(2.18,-.07),(2.05,-.04),(1.81,.06),(1.66,.06),(1.61,-.01),(1.56,-.07),(1.71,-.07),(1.51,-.16),
 (1.41,-.21),(1.41,-.38),(1.47,-.34),(1.53,-.31),(1.60,-.28),(1.67,-.26),(1.74,-.24),(1.81,-.22),(2.29,-.39),
 (1.24,.13),(1.15,.06),(1.07,.43),(.96,.21),(1.00,.14),(1.12,-.09),(1.04,-.17),(1.24,-.34),(1.32,-.44),(1.37,-.49),
 (1.88,.30),(2.03,.14),(2.85,.18),(2.92,.02),(3.00,.20),(3.13,.10),(2.60,.10),(2.70,-.15),(2.88,-.28),(1.95,.20),
 (2.12,.22),(2.20,-.20),(1.90,-.30),(1.30,.30),(1.20,.40),(.95,-.35),(1.00,-.50),(1.15,-.40),(1.35,.10),(1.45,.05),
 (1.50,.25),(2.48,.00),(1.95,-.10),(1.92,-.45),(2.55,.22),(2.62,-.28),
 (.93,.45),(.98,.00),(1.02,.28),(1.06,-.30),(1.10,.20),(1.14,-.50),(1.18,-.15),(1.22,.22),(1.28,-.10),(1.33,.40),
 (1.38,-.30),(1.44,.40),(1.48,-.10),(1.52,.10),(1.58,.15),(1.62,-.38),(1.68,.15),(1.72,-.15),(1.76,.40),(1.84,-.05),
 (1.86,.12),(1.98,.05),(2.00,-.25),(2.08,.28),(2.10,-.15),(2.22,.15),(2.28,.28),(2.30,.00),(2.45,.10),(2.50,-.30),
 (2.58,-.05),(2.66,.25),(2.72,.05),(2.82,-.10),(2.90,.22),(2.95,-.22),(3.05,.05),(3.12,-.15),(3.22,.10),(3.18,-.28)]

labels = ["Original", "Diffusion-TS"]
x_ticks = [0, 2]
y_ticks = [-1.0, -0.5, 0.0, 0.5, 1.0]

orig = np.array(orig_left + orig_core1 + orig_core2 + orig_core_fill + orig_mid + orig_top + orig_bottom + orig_tail)
synth = np.array(synth_left + synth_core1 + synth_core1_dense + synth_core2 + synth_core_fill + synth_core_fill2
                 + synth_edges + synth_blob + synth_mid + synth_top + synth_bottom + synth_tail)

fig = plt.figure(figsize=(8.3, 6.23), dpi=100)
ax = fig.add_axes([0.1193, 0.0803, 0.8711, 0.9101])
ax.scatter(orig[:, 0], orig[:, 1], s=100, c="red", alpha=0.2, label=labels[0])
ax.scatter(synth[:, 0], synth[:, 1], s=100, c="blue", alpha=0.2, label=labels[1])
ax.set_xlim(-1.853, 3.463)
ax.set_ylim(-1.447, 1.408)
ax.set_xticks(x_ticks)
ax.set_yticks(y_ticks)
ax.tick_params(labelsize=28)
ax.legend(loc="lower right", fontsize=31, handlelength=2.1)
fig.savefig("out.png", dpi=100)
